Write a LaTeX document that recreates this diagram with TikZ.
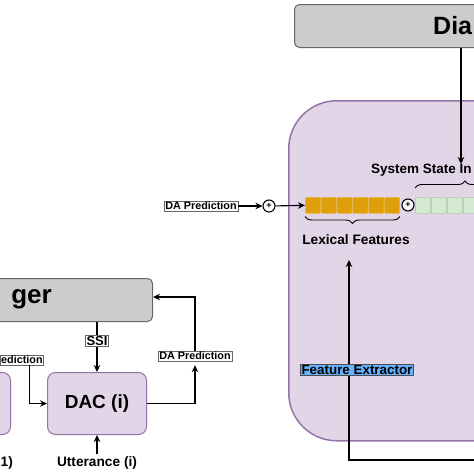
\documentclass[tikz,border=0pt]{standalone}
\usepackage{fontspec}
\setmainfont{Liberation Sans}
\usetikzlibrary{positioning,decorations.pathreplacing,arrows.meta}

\definecolor{mgrfill}{HTML}{CCCCCC}
\definecolor{mgrline}{HTML}{666666}
\definecolor{dacfill}{HTML}{E1D5E7}
\definecolor{dacline}{HTML}{9673A6}
\definecolor{lexfill}{HTML}{DDA00A}
\definecolor{lexline}{HTML}{E9B845}
\definecolor{ssifill}{HTML}{D5E8D4}
\definecolor{ssiline}{HTML}{AACB9F}
\definecolor{feblue}{HTML}{66B2FF}

\newcommand{\fsz}[1]{\fontsize{#1}{#1}\selectfont\bfseries}

\tikzset{
	mgrbox/.style = {draw = mgrline, fill = mgrfill, line width = 1pt, rounded corners = 5pt},
	dacbox/.style = {draw = dacline, fill = dacfill, line width = 1pt, rounded corners = 8pt},
	cell/.style = {minimum width = 15.3pt, minimum height = 16pt, inner sep = 0pt, rounded corners = 1pt, line width = 0.5pt},
	tag/.style = {draw = mgrline, fill = white, inner sep = 1pt, font = \fsz{10.8}},
	txt/.style = {inner sep = 0pt},
	oplus/.style = {circle, draw, fill = white, line width = 1.1pt, minimum size = 12pt, inner sep = 0pt, font = \fsz{9}},
	flow/.style = {-{Stealth[length = 7pt, width = 6.5pt]}, line width = 1.1pt},
	curly/.style = {decorate, decoration = {brace, amplitude = 7pt}, line width = 0.9pt}
}

\begin{document}
\begin{tikzpicture}[x = 1pt, y = -1pt]
	%	canvas (pixel grid, y downwards)
	\useasboundingbox (0, 0) rectangle (474, 474);
	\clip (0, 0) rectangle (474, 474);

	%	managers
	\node[mgrbox, anchor = north west, minimum width = 230pt, minimum height = 43pt] (dm) at (294, 4) {};
	\node[txt, anchor = west, font = \fsz{25}] (dmtxt) at (433, 26) {Dia};
	\node[mgrbox, anchor = north east, minimum width = 260pt, minimum height = 43pt] (mgr) at (153, 278) {};
	\node[txt, anchor = east, font = \fsz{26}] (mgrtxt) at (52, 299) {ger};

	%	classifiers
	\node[dacbox, anchor = north west, minimum width = 99pt, minimum height = 62pt, font = \fsz{19}] (dac) at (47, 372) {DAC (i)};
	\node[dacbox, anchor = north east, minimum width = 99pt, minimum height = 62pt] (dacprev) at (11, 372) {};
	\node[dacbox, rounded corners = 48pt, line width = 1.5pt, anchor = north west, minimum width = 260pt, minimum height = 340pt] (fe) at (288, 100) {};

	%	feature vector
	\foreach \i in {0,...,5}
		\node[cell, fill = lexfill, draw = lexline, anchor = north west] (lex\i) at (305 + \i*15.83, 197) {};
	\foreach \i in {0,...,4}
		\node[cell, fill = ssifill, draw = ssiline, anchor = north west] (ssi\i) at (415 + \i*16, 197) {};
	\node[oplus] (cat) at (408, 205) {+};

	\draw[curly, decoration = {mirror}] ([yshift = -3pt]lex0.south west) -- ([yshift = -3pt]lex5.south east);
	\draw[curly] ([yshift = 9pt]ssi0.north west) -- ++(100, 0);
	\node[txt, font = \fsz{13.7}] (lexlbl) at (356, 240) {Lexical Features};
	\node[txt, anchor = west, font = \fsz{13.5}] (ssilbl) at (371, 170) {System State In};

	%	inputs of the vector
	\coordinate (sstop) at (461, 164);
	\draw[flow] (dm.south -| sstop) -- (sstop);
	\node[tag] (dain) at (201, 206) {DA Prediction};
	\node[oplus] (add) at (269, 206) {+};
	\draw[flow] (dain) -- (add);
	\draw[flow] (add) -- (lex0);

	\coordinate (fesrc) at (480, 460);
	\coordinate (fetop) at (349, 260);
	\draw[flow] (fesrc) -| (fetop);
	\node[draw = black!70, fill = feblue, inner sep = 1pt, font = \fsz{13.4}] (fex) at (357, 370) {Feature Extractor};

	%	dac links
	\node[tag, anchor = west] (predl) at (0, 360) {ediction};
	\draw[flow] ([xshift = -14pt]predl.south east) |- (dac.west);
	\draw[flow] (mgr.south -| dac.north) -- (dac.north);
	\node[tag, font = \fsz{13}] (ssi) at (97, 341) {SSI};
	\node[tag] (predr) at (195, 356) {DA Prediction};
	\draw[flow, shorten > = 4pt] (dac.east) -| (predr.south);
	\draw[flow] (predr.north) |- ([yshift = 3pt]mgr.east);

	%	utterances
	\node[txt, font = \fsz{13.7}] (utt) at (97, 463) {Utterance (i)};
	\draw[flow, shorten < = 2pt] (utt.north) -- (dac.south);
	\node[txt, anchor = west, font = \fsz{13.7}] (uttprev) at (0.5, 463) {1)};
\end{tikzpicture}
\end{document}
